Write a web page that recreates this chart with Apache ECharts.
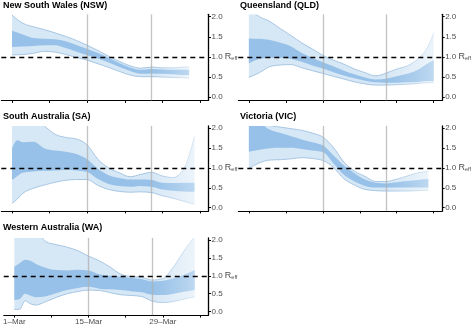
<!DOCTYPE html>
<html><head><meta charset="utf-8">
<script src="https://cdn.jsdelivr.net/npm/echarts@6/dist/echarts.min.js"></script>
<style>html,body{margin:0;padding:0;background:#fff}#c{width:474px;height:334px}</style>
</head><body><div id="c"></div>
<script>
// ---- data (days counted from 1 March) ----
const tickDays = [0, 7, 14, 21, 28, 35];
const labelDays = [0, 14, 28];
const tickLabels = {0: '1\u2013Mar', 14: '15\u2013Mar', 28: '29\u2013Mar'};
const yTicks = [0, 0.5, 1, 1.5, 2];
const refLineValue = 1;
const eventDays = [14, 26];
const fadeStartDay = 26;

const nswTitle = 'New South Wales (NSW)';
const nswDays    = [0,2,4,6,8,10,12,14,16,18,20,22,24,26,28,30,32,33];
const nswOuterLo = [1.05,1.06,1.09,1.14,1.12,1.06,0.99,0.92,0.83,0.74,0.64,0.55,0.51,0.51,0.50,0.49,0.48,0.47];
const nswOuterHi = [2.04,1.84,1.75,1.68,1.60,1.51,1.41,1.29,1.16,1.02,0.89,0.78,0.72,0.75,0.73,0.73,0.75,0.75];
const nswInnerLo = [1.25,1.26,1.27,1.29,1.29,1.22,1.13,1.04,0.96,0.86,0.75,0.65,0.58,0.59,0.58,0.57,0.55,0.55];
const nswInnerHi = [1.65,1.56,1.47,1.45,1.44,1.39,1.30,1.20,1.10,0.98,0.85,0.74,0.68,0.70,0.69,0.68,0.68,0.68];

const qldTitle = 'Queensland (QLD)';
const qldDays    = [0,2,4,6,8,10,12,14,16,18,20,22,24,26,28,30,32,34,35];
const qldOuterLo = [0.49,0.61,0.76,0.80,0.81,0.73,0.66,0.59,0.52,0.45,0.38,0.33,0.30,0.30,0.31,0.32,0.34,0.36,0.36];
const qldOuterHi = [2.20,2.00,1.88,1.70,1.53,1.35,1.20,1.04,0.92,0.82,0.70,0.61,0.53,0.60,0.70,0.78,0.95,1.28,1.60];
const qldInnerLo = [0.84,0.95,0.98,0.98,0.95,0.88,0.79,0.71,0.62,0.54,0.47,0.41,0.37,0.36,0.36,0.37,0.38,0.40,0.40];
const qldInnerHi = [1.46,1.45,1.42,1.35,1.26,1.10,0.98,0.87,0.77,0.66,0.57,0.49,0.44,0.46,0.52,0.58,0.68,0.85,0.92];

const saTitle = 'South Australia (SA)';
const saDays    = [0,1,2,4,6,8,10,12,14,16,18,20,22,24,26,28,30,32,34];
const saOuterLo = [0.11,0.22,0.36,0.49,0.57,0.64,0.69,0.71,0.71,0.56,0.46,0.41,0.39,0.40,0.38,0.30,0.24,0.16,0.09];
const saOuterHi = [2.30,2.30,2.30,2.25,2.06,1.85,1.77,1.73,1.58,1.22,1.00,0.88,0.78,0.84,0.89,0.80,0.76,0.98,1.80];
const saInnerLo = [0.70,0.80,0.88,0.91,0.93,0.94,0.95,0.94,0.90,0.72,0.60,0.55,0.53,0.55,0.53,0.46,0.43,0.41,0.40];
const saInnerHi = [1.50,1.70,1.65,1.66,1.50,1.44,1.41,1.35,1.22,0.98,0.82,0.75,0.71,0.71,0.70,0.63,0.62,0.63,0.63];

const vicTitle = 'Victoria (VIC)';
const vicDays    = [0,2,4,6,8,10,12,14,16,18,20,22,24,26,28,30,32,34];
const vicOuterLo = [0.99,1.13,1.20,1.21,1.23,1.26,1.24,1.19,1.02,0.73,0.57,0.46,0.43,0.42,0.42,0.42,0.43,0.44];
const vicOuterHi = [2.40,2.20,2.07,2.03,1.99,1.95,1.88,1.78,1.52,1.15,0.92,0.79,0.66,0.66,0.72,0.80,0.88,0.92];
const vicInnerLo = [1.41,1.46,1.50,1.51,1.51,1.48,1.44,1.40,1.12,0.83,0.66,0.55,0.51,0.51,0.51,0.51,0.51,0.51];
const vicInnerHi = [2.30,2.15,1.96,1.88,1.80,1.72,1.65,1.57,1.32,1.06,0.87,0.71,0.63,0.61,0.64,0.67,0.70,0.72];

const waTitle = 'Western Australia (WA)';
const waDays    = [0,1,2,3,4,6,8,10,12,14,16,18,20,22,24,26,28,30,32,34];
const waOuterLo = [0.06,0.06,0.30,0.22,0.18,0.28,0.40,0.50,0.56,0.60,0.59,0.53,0.47,0.45,0.42,0.29,0.25,0.28,0.35,0.41];
const waOuterHi = [2.50,2.50,2.50,2.40,2.30,1.95,1.87,1.80,1.70,1.55,1.42,1.25,1.05,0.98,0.96,0.88,0.92,1.25,1.70,2.10];
const waInnerLo = [0.32,0.35,0.50,0.45,0.40,0.43,0.52,0.60,0.66,0.69,0.64,0.62,0.60,0.57,0.54,0.47,0.46,0.50,0.55,0.60];
const waInnerHi = [1.25,1.35,1.45,1.42,1.34,1.22,1.16,1.15,1.17,1.15,1.04,1.00,0.97,0.94,0.91,0.84,0.86,0.93,1.03,1.16];

// ---- layout ----
const states = [
  {title: nswTitle, days: nswDays, oLo: nswOuterLo, oHi: nswOuterHi, iLo: nswInnerLo, iHi: nswInnerHi},
  {title: qldTitle, days: qldDays, oLo: qldOuterLo, oHi: qldOuterHi, iLo: qldInnerLo, iHi: qldInnerHi},
  {title: saTitle,  days: saDays,  oLo: saOuterLo,  oHi: saOuterHi,  iLo: saInnerLo,  iHi: saInnerHi},
  {title: vicTitle, days: vicDays, oLo: vicOuterLo, oHi: vicOuterHi, iLo: vicInnerLo, iHi: vicInnerHi},
  {title: waTitle,  days: waDays,  oLo: waOuterLo,  oHi: waOuterHi,  iLo: waInnerLo,  iHi: waInnerHi}
];
const panels = [
  {left: 1.3,   top: 14.3,  width: 207.2, height: 86.1, ymin: -0.08, titleX: 3,   titleY: 0.5, bottomAxis: false},
  {left: 238.3, top: 14.3,  width: 207.2, height: 86.1, ymin: -0.08, titleX: 240, titleY: 0.5, bottomAxis: false},
  {left: 1.3,   top: 125.9, width: 207.2, height: 85.0, ymin: -0.08, titleX: 3,   titleY: 111.5, bottomAxis: false},
  {left: 238.3, top: 125.9, width: 207.2, height: 85.0, ymin: -0.08, titleX: 240, titleY: 111.5, bottomAxis: false},
  {left: 1.3,   top: 237.9, width: 207.2, height: 77.2, ymin: -0.10, titleX: 3,   titleY: 222, bottomAxis: true}
];
const XMIN = -2, XMAX = 36.6, YMAX = 2.06;
const FONT = 'Liberation Sans, Arial, Helvetica, sans-serif';
const LABEL_COLOR = '#4d4d4d';

function monoPath(pts, start) {
  const n = pts.length, h = [], s = [], m = [];
  for (let i = 0; i < n - 1; i++) { h[i] = pts[i+1][0] - pts[i][0]; s[i] = (pts[i+1][1] - pts[i][1]) / h[i]; }
  for (let i = 1; i < n - 1; i++) {
    const p = (s[i-1] * h[i] + s[i] * h[i-1]) / (h[i-1] + h[i]);
    m[i] = ((Math.sign(s[i-1]) + Math.sign(s[i])) * Math.min(Math.abs(s[i-1]), Math.abs(s[i]), 0.5 * Math.abs(p))) || 0;
  }
  m[0] = n > 2 ? (3 * s[0] - m[1]) / 2 : s[0];
  m[n-1] = n > 2 ? (3 * s[n-2] - m[n-2]) / 2 : s[n-2];
  let d = (start ? 'M' : 'L') + pts[0][0] + ',' + pts[0][1];
  for (let i = 0; i < n - 1; i++) {
    const dx = h[i] / 3;
    d += ' C' + (pts[i][0] + dx) + ',' + (pts[i][1] + m[i] * dx) + ' ' +
         (pts[i+1][0] - dx) + ',' + (pts[i+1][1] - m[i+1] * dx) + ' ' + pts[i+1][0] + ',' + pts[i+1][1];
  }
  return d;
}

function bandSeries(idx, days, lo, hi, st) {
  return {
    type: 'custom', xAxisIndex: idx, yAxisIndex: idx, clip: true, silent: true, z: st.z,
    data: days.map((d, i) => [d, lo[i], hi[i]]),
    encode: {x: 0, y: [1, 2]},
    renderItem(params, api) {
      if (params.dataIndex !== 0) return null;
      const top = days.map((d, i) => api.coord([d, hi[i]]));
      const bot = days.map((d, i) => api.coord([d, lo[i]]));
      const n = days.length;
      const xs = api.coord([fadeStartDay, 0])[0], xe = top[n-1][0];
      const grad = (c0, c1) => ({type: 'linear', x: xs, y: 0, x2: xe, y2: 0, global: true,
        colorStops: [{offset: 0, color: c0}, {offset: 1, color: c1}]});
      const cs = params.coordSys;
      const clipRect = {type: 'rect', shape: {x: cs.x, y: cs.y, width: cs.width, height: cs.height}};
      const children = [{
        type: 'path',
        shape: {pathData: monoPath(top, true) + ' ' + monoPath(bot.slice().reverse(), false) + ' Z'},
        style: {fill: grad(st.fill, st.fillEnd), stroke: null}
      }];
      if (st.stroke) {
        [top, bot].forEach(p => children.push({
          type: 'path', shape: {pathData: monoPath(p, true)},
          style: {fill: null, stroke: grad(st.stroke, st.strokeEnd), lineWidth: 0.8}
        }));
      }
      return {type: 'group', clipPath: clipRect, children};
    }
  };
}

const outerStyle = {z: 2, fill: 'rgba(214,231,245,1)', fillEnd: 'rgba(214,231,245,0.45)',
                    stroke: 'rgba(150,187,222,1)', strokeEnd: 'rgba(150,187,222,0.35)'};
const innerStyle = {z: 3, fill: 'rgba(151,193,232,1)', fillEnd: 'rgba(151,193,232,0.55)'};

const option = {
  animation: false,
  textStyle: {fontFamily: FONT},
  title: states.map((s, i) => ({text: s.title, left: panels[i].titleX, top: panels[i].titleY, padding: 0,
    textStyle: {fontSize: 9, fontWeight: 'bold', color: '#000', fontFamily: FONT, lineHeight: 11}})),
  grid: panels.map(p => ({left: p.left, top: p.top, width: p.width, height: p.height, containLabel: false})),
  xAxis: panels.map((p, i) => ({
    gridIndex: i, type: 'value', min: XMIN, max: XMAX, position: 'bottom',
    axisLine: {show: true, onZero: false, lineStyle: {color: '#000', width: 1}},
    axisTick: {show: true, customValues: tickDays, length: 2.5, lineStyle: {color: '#000', width: 1}},
    axisLabel: {show: p.bottomAxis, customValues: labelDays, formatter: v => tickLabels[v] || '',
      fontSize: 8, color: LABEL_COLOR, margin: 3, fontFamily: FONT},
    splitLine: {show: false}
  })),
  yAxis: panels.map((p, i) => ({
    gridIndex: i, type: 'value', min: p.ymin, max: YMAX, position: 'right',
    axisLine: {show: true, onZero: false, lineStyle: {color: '#000', width: 1.3}},
    axisTick: {show: true, customValues: yTicks, length: 2.5, lineStyle: {color: '#000', width: 1}},
    axisLabel: {customValues: yTicks, margin: 3, fontSize: 8, color: LABEL_COLOR, fontFamily: FONT,
      formatter: v => v === refLineValue ? v.toFixed(1) + ' {r|R}{s|eff}' : v.toFixed(1),
      rich: {r: {fontSize: 9, color: LABEL_COLOR, fontFamily: FONT},
             s: {fontSize: 5.5, color: LABEL_COLOR, fontFamily: FONT, verticalAlign: 'bottom', padding: [3, 0, 0, 0]}}},
    splitLine: {show: false}
  })),
  series: []
};

states.forEach((s, i) => {
  option.series.push(bandSeries(i, s.days, s.oLo, s.oHi, outerStyle));
  option.series.push(bandSeries(i, s.days, s.iLo, s.iHi, innerStyle));
  option.series.push({
    type: 'line', xAxisIndex: i, yAxisIndex: i, data: [], silent: true, z: 5,
    markLine: {symbol: ['none', 'none'], silent: true, label: {show: false}, animation: false,
      data: eventDays.map(d => ({xAxis: d, lineStyle: {color: 'rgba(175,175,175,0.75)', type: 'solid', width: 1.3}}))}
  });
  option.series.push({
    type: 'line', xAxisIndex: i, yAxisIndex: i, data: [], silent: true, z: 6,
    markLine: {symbol: ['none', 'none'], silent: true, label: {show: false}, animation: false,
      data: [{yAxis: refLineValue, lineStyle: {color: '#000', type: [5, 4], width: 1.4}}]}
  });
});

const chart = echarts.init(document.getElementById('c'), null, {renderer: 'canvas'});
chart.setOption(option);
</script>
</body></html>
